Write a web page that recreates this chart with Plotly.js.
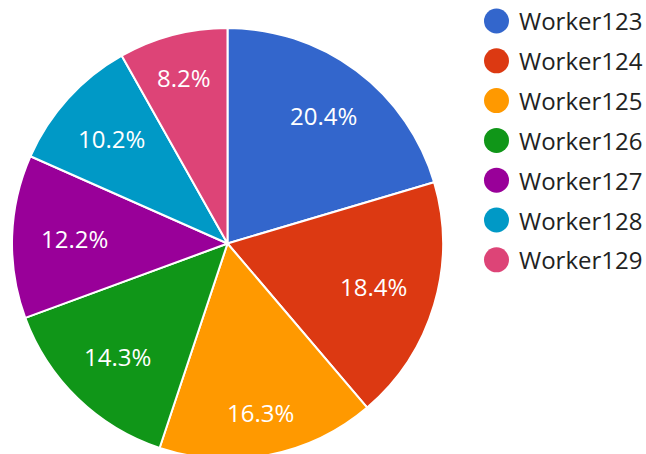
<!DOCTYPE html>
<html><head><meta charset="utf-8">
<script src="https://cdn.plot.ly/plotly-3.0.1.min.js"></script>
<style>html,body{margin:0;padding:0;overflow:hidden;background:#fff}</style>
</head><body><div id="chart"></div>
<script>
const workers = ["Worker123","Worker124","Worker125","Worker126","Worker127","Worker128","Worker129"];
const tasks = [10, 9, 8, 7, 6, 5, 4];
const colors = ["#3366cc","#dc3912","#ff9900","#109618","#990099","#0099c6","#dd4477"];

const W = 646, H = 459;
const px = x => x / W;
const py = y => 1 - y / H;

// pie geometry (pixels)
const pieL = 12, pieR = 443, pieT = 28, pieB = 459;
const cx = (pieL + pieR) / 2, cy0 = (pieT + pieB) / 2, R = (pieR - pieL) / 2;

const shapes = [], annotations = [];
workers.forEach((w, i) => {
  const cy = 21 + i * 39.8;
  shapes.push({type:'circle', xref:'paper', yref:'paper',
    x0: px(484), x1: px(509), y0: py(cy + 12.5), y1: py(cy - 12.5),
    fillcolor: colors[i], line:{width:0}});
  annotations.push({xref:'paper', yref:'paper', x: px(517), y: py(cy),
    xanchor:'left', yanchor:'middle', showarrow:false, text: w,
    font:{family:'Open Sans', size:24, color:'#222'}});
});

// slice percentage labels, placed along each slice's mid-angle
const ctx = document.createElement('canvas').getContext('2d');
ctx.font = '24px "Open Sans"';
const total = tasks.reduce((a, b) => a + b, 0);
let cum = 0;
tasks.forEach((v, i) => {
  const mid = (cum + v / 2) / total * 2 * Math.PI;
  cum += v;
  const ux = Math.sin(mid), uy = Math.cos(mid);
  const txt = (v / total * 100).toFixed(1) + '%';
  const hw = ctx.measureText(txt).width / 2, hh = 9;
  const d = 0.87 * R - (hw * Math.abs(ux) + hh * Math.abs(uy));
  annotations.push({xref:'paper', yref:'paper', x: px(cx + d * ux), y: py(cy0 - d * uy),
    xanchor:'center', yanchor:'middle', showarrow:false, text: txt,
    font:{family:'Open Sans', size:24, color:'#fff'}});
});

Plotly.newPlot('chart', [{
  type:'pie', labels: workers, values: tasks, sort:false, direction:'clockwise', rotation:0,
  marker:{colors: colors, line:{color:'#fff', width:2}},
  textinfo:'none',
  domain:{x:[px(pieL), px(pieR)], y:[py(pieB), py(pieT)]},
  showlegend:false, hoverinfo:'label+percent'
}], {
  width: W, height: H, margin:{l:0,r:0,t:0,b:0},
  paper_bgcolor:'#fff', showlegend:false,
  font:{family:'Open Sans'},
  shapes: shapes, annotations: annotations
}, {displayModeBar:false, staticPlot:true});
</script></body></html>
